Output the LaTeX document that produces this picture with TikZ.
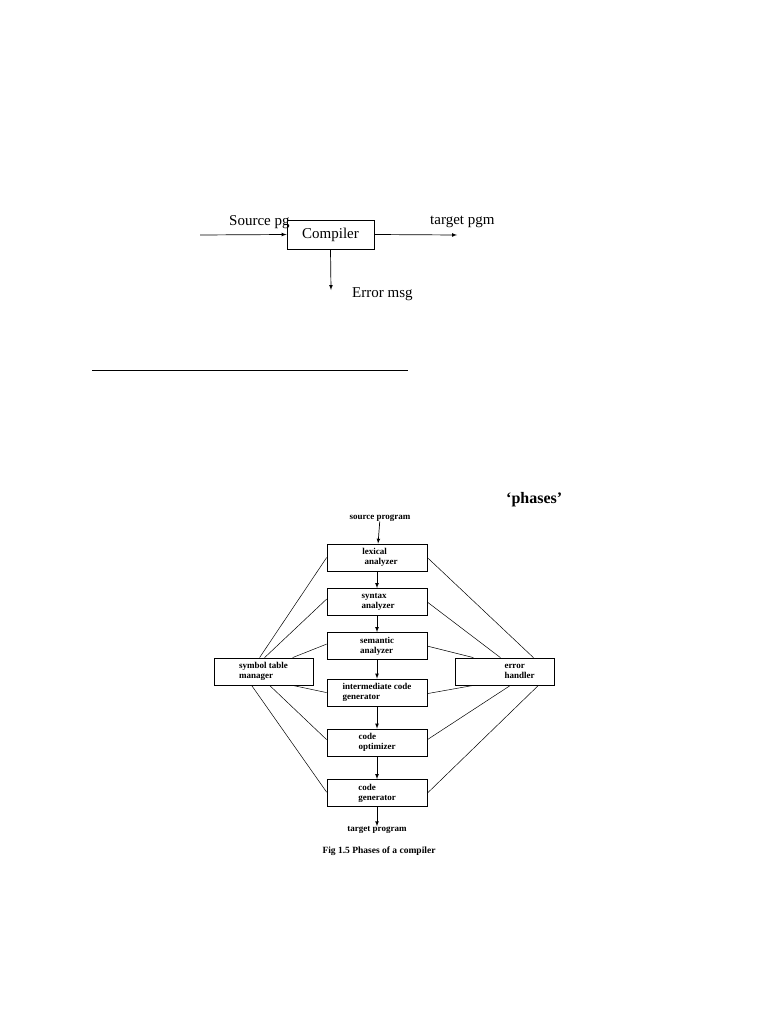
\documentclass[tikz,border=0pt]{standalone}
\usepackage{fontspec}
\setmainfont{Liberation Serif}
\begin{document}
\begin{tikzpicture}[x=1pt,y=-1pt,
  box/.style={draw,line width=0.8pt,minimum width=100pt,minimum height=27pt,inner sep=0pt,align=left,font=\fontsize{9}{10}\selectfont\bfseries},
  lbl/.style={inner sep=0pt,font=\fontsize{9}{10}\selectfont\bfseries},
  arr/.style={-latex,line width=0.7pt},
  ln/.style={line width=0.5pt}]
\useasboundingbox (0,0) rectangle (768,1024);
% top diagram
\node[draw,line width=0.9pt,minimum width=87pt,minimum height=29pt,font=\fontsize{15}{16}\selectfont] (comp) at (330.5,234.5) {Compiler};
\coordinate (in) at (200,235);
\coordinate (out) at (457,235);
\coordinate (err) at (331,290);
\draw[arr] (in) -- (comp.west);
\draw[arr] (comp.east) -- (out);
\draw[arr] (comp.south) -- (err);
\node[anchor=west,inner sep=0pt,font=\fontsize{15}{16}\selectfont] (src) at (229,222) {Source pg};
\node[anchor=west,inner sep=0pt,font=\fontsize{15}{16}\selectfont] (tgt) at (430,222) {target pgm};
\node[anchor=west,inner sep=0pt,font=\fontsize{15}{16}\selectfont] (em) at (352,294) {Error msg};
\coordinate (ha) at (92,370);
\coordinate (hb) at (408,370);
\draw[line width=0.8pt] (ha) -- (hb);
% lower diagram
\node[anchor=west,inner sep=0pt,font=\fontsize{16}{17}\selectfont\bfseries] (ph) at (506,500) {‘phases’};
\node[lbl] (sp) at (380,518) {source program};
\node[box] (lex) at (377,557.5) {\hspace*{6pt}lexical\\\hspace*{6pt}\ analyzer};
\node[box] (syn) at (377,602) {\hspace*{2pt}syntax\\\hspace*{2pt}analyzer};
\node[box] (sem) at (377,646) {semantic\\analyzer};
\node[box] (int) at (377,692.5) {intermediate code\\generator};
\node[box] (opt) at (377,742.5) {code\\optimizer};
\node[box] (gen) at (377,793) {code\\generator};
\node[lbl] (tp) at (377,830) {target program};
\node[inner sep=0pt,font=\fontsize{9.5}{10}\selectfont\bfseries] (cap) at (379,851) {Fig 1.5 Phases of a compiler};
\node[box,minimum width=99pt] (sym) at (263.5,671.5) {symbol table\\manager};
\node[box,minimum width=99pt] (eh) at (504.5,671.5) {\hspace*{30pt}error\\\hspace*{30pt}handler};
\draw[arr] (sp) -- (lex);
\draw[arr] (lex) -- (syn);
\draw[arr] (syn) -- (sem);
\draw[arr] (sem) -- (int);
\draw[arr] (int) -- (opt);
\draw[arr] (opt) -- (gen);
\draw[arr] (gen) -- (tp);
% left connectors
\draw[ln] ([xshift=46pt]sym.north west) -- ([yshift=-14pt]lex.north west);
\draw[ln] ([xshift=51pt]sym.north west) -- ([yshift=-11pt]syn.north west);
\draw[ln] ([xshift=79pt]sym.north west) -- ([yshift=-12pt]sem.north west);
\draw[ln] ([xshift=79pt]sym.south west) -- ([yshift=-14pt]int.north west);
\draw[ln] ([xshift=56pt]sym.south west) -- ([yshift=-11pt]opt.north west);
\draw[ln] ([xshift=38pt]sym.south west) -- ([yshift=-13pt]gen.north west);
% right connectors
\draw[ln] ([xshift=-21pt]eh.north east) -- ([yshift=-14pt]lex.north east);
\draw[ln] ([xshift=-54pt]eh.north east) -- ([yshift=-14pt]syn.north east);
\draw[ln] ([xshift=-81pt]eh.north east) -- ([yshift=-14pt]sem.north east);
\draw[ln] ([xshift=-81pt]eh.south east) -- ([yshift=-15pt]int.north east);
\draw[ln] ([xshift=-44pt]eh.south east) -- ([yshift=-11pt]opt.north east);
\draw[ln] ([xshift=-16pt]eh.south east) -- ([yshift=-14pt]gen.north east);
\end{tikzpicture}
\end{document}
